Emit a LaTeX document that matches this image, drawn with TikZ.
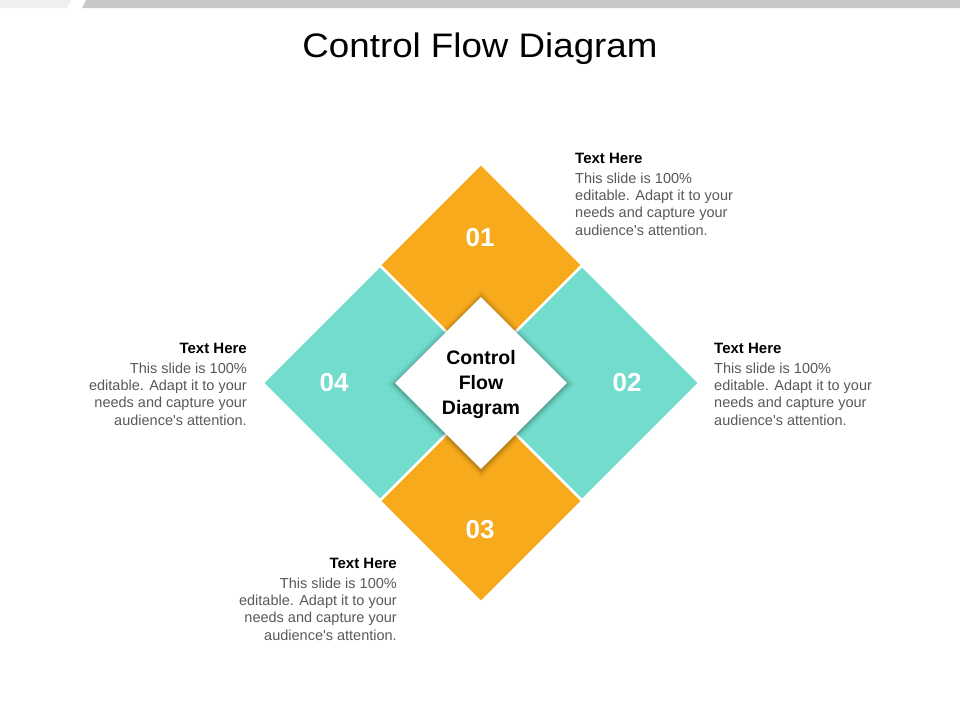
\documentclass[tikz,border=0pt]{standalone}
\usepackage{fontspec}
\usepackage{graphicx}
\setmainfont{Liberation Sans}[Ligatures=TeXOff]
\usetikzlibrary{shapes.geometric}
\definecolor{orng}{HTML}{F6AA1C}
\definecolor{teal2}{HTML}{72DCCD}
\definecolor{bodygray}{HTML}{595959}
\definecolor{barlight}{HTML}{EFEFEF}
\definecolor{bardark}{HTML}{C8C8C8}
\tikzset{
  piece/.style={diamond, aspect=1, inner sep=0pt, draw=white, line width=1.5pt},
  numlbl/.style={font=\fontsize{26}{30}\selectfont\bfseries, text=white, inner sep=0pt},
  blockR/.style={anchor=north west, align=left, inner sep=0pt, text=bodygray,
    font=\fontsize{14.5}{17.4}\selectfont},
  blockL/.style={anchor=north east, align=right, inner sep=0pt, text=bodygray,
    font=\fontsize{14.5}{17.4}\selectfont}
}
\newcommand{\hdtxt}{{\color{black}\fontsize{15}{17.4}\selectfont\bfseries Text Here}\\[2.6pt]}
\begin{document}
\begin{tikzpicture}[x=1pt,y=-1pt]
\useasboundingbox[fill=white] (0,0) rectangle (960,720);
% top bar
\fill[barlight] (0,0) -- (71,0) -- (67,8) -- (0,8) -- cycle;
\fill[bardark] (86,0) -- (960,0) -- (960,8) -- (82,8) -- cycle;
% title
\node[anchor=base, inner sep=0pt, font=\fontsize{34}{40}\selectfont] (title) at (480,57) {\scalebox{1.08}[1]{Control Flow Diagram}};
% pieces
\node[piece, fill=teal2, minimum width=234pt, minimum height=234pt] (p2) at (582,383) {};
\node[piece, fill=teal2, minimum width=234pt, minimum height=234pt] (p4) at (380,383) {};
\node[piece, fill=orng, minimum width=202pt, minimum height=202pt] (p1) at (481,265) {};
\node[piece, fill=orng, minimum width=202pt, minimum height=202pt] (p3) at (481,501) {};
% shadow of centre
\foreach \s/\o in {188/0.035,183/0.05,179/0.07,175/0.09}{
  \fill[black, opacity=\o] (481,384-\s/2) -- (481+\s/2,384) -- (481,384+\s/2) -- (481-\s/2,384) -- cycle;
}
\node[diamond, aspect=1, inner sep=0pt, fill=white, minimum width=172pt, minimum height=172pt] (c) at (481,383) {};
\node[align=center, inner sep=0pt, font=\fontsize{19.5}{25}\selectfont\bfseries] (ctext) at (481,384) {Control\\Flow\\Diagram};
% numbers
\node[numlbl] (n1) at (480,238) {01};
\node[numlbl] (n2) at (627,383) {02};
\node[numlbl] (n3) at (480,530) {03};
\node[numlbl] (n4) at (334,383) {04};
% text blocks
\node[blockR] (t1) at (575,152.5) {\hdtxt This slide is 100\%\\editable. Adapt it to your\\needs and capture your\\audience's attention.};
\node[blockR] (t2) at (714,342.5) {\hdtxt This slide is 100\%\\editable. Adapt it to your\\needs and capture your\\audience's attention.};
\node[blockL] (t4) at (247,342.5) {\hdtxt This slide is 100\%\\editable. Adapt it to your\\needs and capture your\\audience's attention.};
\node[blockL] (t3) at (397,557.5) {\hdtxt This slide is 100\%\\editable. Adapt it to your\\needs and capture your\\audience's attention.};
\end{tikzpicture}
\end{document}
